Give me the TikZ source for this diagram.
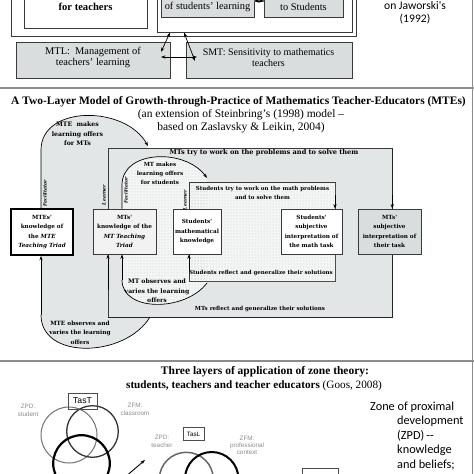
\documentclass[tikz,border=0pt]{standalone}
\usepackage{fontspec}
\setmainfont{Liberation Serif}
\newfontfamily\carl{Carlito}
\newfontfamily\ars{Liberation Sans}
\newfontfamily\dvs{DejaVu Serif}
\usetikzlibrary{patterns,arrows.meta}
\definecolor{boxgray}{HTML}{D9DDDD}
\definecolor{fillgray}{HTML}{E2E6E6}
\definecolor{linegray}{HTML}{3A3A3A}
\definecolor{sepgray}{HTML}{8C8C8C}
\definecolor{dotbg}{HTML}{F4F5F5}
\begin{document}
\begin{tikzpicture}[x=1pt,y=-1pt,
  >={Stealth[length=4.5pt,width=3.2pt]},
  wbox/.style={draw=linegray, line width=0.7, fill=white, inner sep=0},
  gbox/.style={draw=linegray, line width=0.7, fill=boxgray, inner sep=0},
  toptxt/.style={font=\fontsize{10.4}{11.2}\selectfont, align=center, inner sep=0},
  kbox/.style={draw=linegray, line width=0.7, inner sep=0, align=center,
     font=\dvs\bfseries\fontsize{5.7}{9.4}\selectfont},
  small/.style={font=\dvs\bfseries\fontsize{5.8}{9.4}\selectfont, align=center, inner sep=0},
  rotlab/.style={rotate=90, inner sep=0, font=\dvs\bfseries\itshape\fontsize{4.6}{6}\selectfont},
  gtxt/.style={font=\ars\fontsize{6.3}{7.3}\selectfont, text=black!45, align=center, inner sep=0},
  ctxt/.style={font=\carl\fontsize{12.3}{13}\selectfont, inner sep=0},
  sep/.style={draw=sepgray, line width=1.4},
  conn/.style={draw=black, line width=0.7},
]
\useasboundingbox (0,0) rectangle (474,474);
\clip (0,0) rectangle (474,474);
\fill[white] (0,0) rectangle (474,474);

% ================= top panel =================
\node[wbox, minimum width=345, minimum height=56] (outer) at (183.5,8) {};
\node[wbox, minimum width=123, minimum height=48] (ltb) at (85.5,4) {};
\node[toptxt, font=\bfseries\fontsize{10.6}{11.2}\selectfont] (ltbT) at (85.5,7) {for teachers};
\node[wbox, minimum width=195, minimum height=52] (rin) at (254.5,6) {};
\node[gbox, minimum width=93, minimum height=37] (osl) at (207.5,-1.5) {};
\node[toptxt] (oslT) at (207.5,7) {of students' learning};
\node[gbox, minimum width=79, minimum height=37] (tst) at (303.5,-1.5) {};
\node[toptxt] (tstT) at (303.5,7) {to Students};
\fill[black!55] (254,-8) rectangle (264,2);
\draw[conn, <->] (osl.east |- 0,1) -- (tst.west |- 0,1);

\node[gbox, minimum width=154, minimum height=36] (mtl) at (93,60) {};
\node[toptxt] (mtlT) at (93,57.5) {MTL:\ \ Management of\\teachers' learning};
\node[gbox, minimum width=166, minimum height=36] (smt) at (269,60) {};
\node[toptxt, font=\fontsize{10}{11.2}\selectfont] (smtT) at (268.5,57.5) {SMT:\ Sensitivity to mathematics\\teachers};
\coordinate (r1) at (170,32.5);
\coordinate (r2) at (184,32.5);
\coordinate (m1) at (161,52);
\coordinate (s1) at (195,61);
\draw[conn, <->] (r1) -- (m1);
\draw[conn, <->] (r2) -- (s1);
\draw[conn, <->] (161,57) -- (197,57);

\node[ctxt, font=\carl\fontsize{11.6}{13}\selectfont] (jaw1) at (415,6) {on Jaworski's};
\node[ctxt, font=\carl\fontsize{11.6}{13}\selectfont] (jaw2) at (415,19.5) {(1992)};

\draw[sep] (0,88) -- (474,88);
\draw[sep] (0,361) -- (474,361);
\draw[draw=sepgray, line width=1] (472.8,0) -- (472.8,474);

% ================= middle panel =================
\node[inner sep=0, font=\bfseries\fontsize{11.45}{12}\selectfont] (t2) at (238.5,102) {A Two-Layer Model of Growth-through-Practice of Mathematics Teacher-Educators (MTEs)};
\node[inner sep=0, align=center, font=\fontsize{11.5}{13}\selectfont] (t2b) at (241,121.5) {(an extension of Steinbring's (1998) model --\\based on Zaslavsky \& Leikin, 2004)};

% fills
\fill[fillgray] (41,209) -- (41,150) .. controls (41,105) and (125,105) .. (148,146) -- (150,317) .. controls (125,358) and (41,360) .. (41,315) -- cycle;
\fill[fillgray] (108,148) rectangle (392,317);
\fill[dotbg] (122,185) .. controls (122,150) and (185,148) .. (207,178) -- (207,283) .. controls (185,312) and (122,312) .. (122,280) -- cycle;
\fill[dotbg] (189,182) rectangle (335,281);
\path[pattern=dots, pattern color=black!22] (122,185) .. controls (122,150) and (185,148) .. (207,178) -- (207,283) .. controls (185,312) and (122,312) .. (122,280) -- cycle;
\path[pattern=dots, pattern color=black!22] (189,182) rectangle (335,281);

% big box and inner frame
\draw[draw=linegray, line width=0.7] (108,148) rectangle (392,317);
\draw[draw=black!85, line width=1.3] (108,317.3) -- (392.3,317.3) -- (392.3,148.5);
\draw[draw=linegray, line width=0.6] (189,182) rectangle (335,281);
\draw[draw=black!70, line width=0.9] (189,281.2) -- (335.2,281.2) -- (335.2,182.5);

% boxes
\node[kbox, draw=black, line width=1.8, fill=white, minimum width=62, minimum height=46] (mte) at (42,232) {MTEs'\\knowledge of\\the \textit{MTE}\\\textit{Teaching Triad}};
\node[kbox, fill=black!5, minimum width=63, minimum height=45] (mts) at (124.5,231.5) {MTs'\\knowledge of the\\\textit{MT Teaching}\\\textit{Triad}};
\node[kbox, fill=white, minimum width=48, minimum height=45] (smk) at (197,231.5) {Students'\\mathematical\\knowledge};
\node[kbox, fill=white, minimum width=61, minimum height=45] (ssub) at (311.5,231.5) {Students'\\subjective\\interpretation of\\the math task};
\node[kbox, fill=boxgray, minimum width=63, minimum height=45] (msub) at (389.5,231.5) {MTs'\\subjective\\interpretation of\\their task};

% MTE loop
\draw[conn, ->] ([xshift=-1pt]mte.north) -- (41,150) .. controls (41,105) and (125,105) .. (148,146);
\draw[conn, ->] (41,315) -- ([xshift=-1pt]mte.south);
\draw[conn] (41,315) .. controls (41,360) and (125,358) .. (150,317);
% MT loop
\draw[conn, ->] ([xshift=-2.5pt]mts.north) -- (122,185) .. controls (122,150) and (185,148) .. (207,178);
\draw[conn, ->] (122,280) -- ([xshift=-2.5pt]mts.south);
\draw[conn] (122,280) .. controls (122,312) and (185,312) .. (207,283);
% arrowheads on frame edges
\draw[conn, ->] (108,290) -- ([xshift=-16.5pt]mts.south);
\draw[conn, ->] (189,270) -- ([xshift=-8pt]smk.south);
\draw[conn, ->] (335,195) -- ([xshift=23.5pt]ssub.north);
\draw[conn, ->] (392.3,195) -- ([xshift=2.8pt]msub.north);

% labels
\node[rotlab] (fac1) at (45,193) {Facilitator};
\node[rotlab] (lea1) at (104,195) {Learner};
\node[rotlab] (fac2) at (126,190) {Facilitator};
\node[rotlab] (lea2) at (185,200) {Learner};

\node[small, font=\dvs\bfseries\fontsize{6.2}{9.4}\selectfont] (mtemk) at (77.5,134) {MTE\ \ makes\\learning offers\\for MTs};
\node[small] (mteob) at (80,332.5) {MTE observes and\\varies the learning\\offers};
\node[small, font=\dvs\bfseries\fontsize{5.6}{9.4}\selectfont] (mtmk) at (160,173.5) {MT makes\\learning offers\\for students};
\node[small, font=\dvs\bfseries\fontsize{6.1}{9.4}\selectfont] (mtob) at (157,291) {MT observes and\\varies the learning\\offers};
\node[small, font=\dvs\bfseries\fontsize{6.6}{9.4}\selectfont] (mttry) at (264,153) {MTs try to work on the problems and to solve them};
\node[small, font=\dvs\bfseries\fontsize{5.5}{9.4}\selectfont] (sttry) at (262.5,193) {Students try to work on the math problems\\and to solve them};
\node[small, font=\dvs\bfseries\fontsize{5.5}{9.4}\selectfont] (stref) at (261,273) {Students reflect and generalize their solutions};
\node[small, font=\dvs\bfseries\fontsize{5.55}{9.4}\selectfont] (mtref) at (260,309) {MTs reflect and generalize their solutions};

% ================= bottom panel =================
\node[inner sep=0, font=\bfseries\fontsize{11.5}{12}\selectfont] (t3) at (265,372) {Three layers of application of zone theory:};
\node[inner sep=0, font=\fontsize{11.2}{12}\selectfont] (t3b) at (254,385.5) {\textbf{students, teachers and teacher educators} (Goos, 2008)};

\draw[draw=black!55, line width=1.0] (69,435) circle (28);
\draw[draw=black!80, line width=1.3] (92.5,431.5) circle (25.8);
\draw[draw=black, line width=2.2] (81.5,463.5) circle (28.3);
\draw[draw=black!60, line width=1.5] (186.3,479.3) circle (27);
\draw[draw=black, line width=2.0] (211.7,478.7) circle (26.7);

\node[draw=black!70, line width=0.7, minimum width=29, minimum height=16, inner sep=0, font=\ars\fontsize{8.6}{10}\selectfont] (tast) at (82.5,401) {TasT};
\node[draw=black!70, line width=0.7, minimum width=21, minimum height=12.5, inner sep=0, font=\ars\fontsize{6.3}{8}\selectfont] (tasl) at (193.5,434) {TasL};
\node[draw=black!70, line width=0.7, minimum width=36, minimum height=20, inner sep=0] (tase) at (320,478) {};

\node[gtxt] (zpd1) at (28,410.5) {ZPD:\\student};
\node[gtxt] (zfm1) at (135,409.5) {ZFM:\\classroom};
\node[gtxt] (zpd2) at (162,441.5) {ZPD:\\teacher};
\node[gtxt] (zfm2) at (247,445.5) {ZFM:\\professional\\context};

\coordinate (ar0) at (124,478);
\coordinate (ar1) at (145,460);
\draw[conn, line width=0.9, ->] (ar0) -- (ar1);

\node[ctxt, anchor=west] (z1) at (370,407) {Zone of proximal};
\node[ctxt, anchor=west] (z2) at (397,421.5) {development};
\node[ctxt, anchor=west] (z3) at (397,436) {(ZPD)\,--};
\node[ctxt, anchor=west] (z4) at (397,450.5) {knowledge};
\node[ctxt, anchor=west] (z5) at (397,465) {and beliefs;};
\end{tikzpicture}
\end{document}
